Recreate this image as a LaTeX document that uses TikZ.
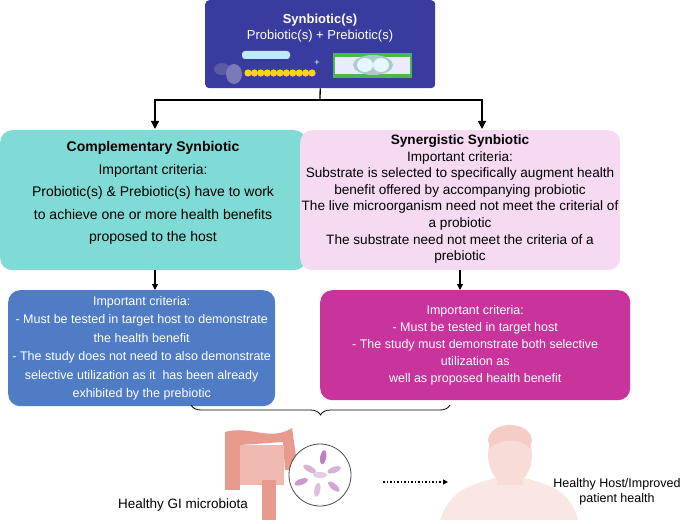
\documentclass[tikz,border=0pt]{standalone}
\usepackage{fontspec}
\setmainfont{Liberation Sans}
\usetikzlibrary{decorations.pathreplacing,arrows.meta,calc}
\definecolor{top}{HTML}{3A3B9E}
\definecolor{teal}{HTML}{80DAD5}
\definecolor{lpink}{HTML}{F6DAF2}
\definecolor{dblue}{HTML}{4F7CC4}
\definecolor{mag}{HTML}{C8339C}
\definecolor{gut}{HTML}{E89A8E}
\definecolor{skin}{HTML}{F7DCD8}
\begin{document}
\begin{tikzpicture}[x=1pt,y=-1pt,
 box/.style={rounded corners=12pt,draw=none,align=center,font=\fontsize{12.5}{18}\selectfont,inner sep=4pt},
 arr/.style={-{Triangle[length=8pt,width=8pt]},line width=1.3pt}]
\useasboundingbox (0,0) rectangle (685,524);
\node[box,fill=top,minimum width=230pt,minimum height=88pt,rounded corners=4pt,anchor=north west] (top) at (205,0) {};
\node[text=white,align=center,font=\fontsize{13}{16}\selectfont] (tt) at (320,28) {\textbf{Synbiotic(s)}\\Probiotic(s) + Prebiotic(s)};
% icons
\fill[blue!30!gray] (222,69) ellipse (8 and 6);
\fill[blue!30!gray!80] (234,74) ellipse (8 and 10);
\fill[cyan!25,rounded corners=3pt] (242,51) rectangle (290,59);
\foreach \i in {0,...,10} \fill[orange!40!yellow!90] (248+\i*6.4,73) circle (3.6);
\node[text=white,font=\small] (plus) at (317,63) {+};
\fill[green!60!black!70] (333,53) rectangle (412,78);
\fill[blue!8] (335,57) rectangle (410,74);
\fill[teal!70!black!50] (373,65) ellipse (20 and 10);
\fill[cyan!10] (365,65) ellipse (8 and 7);\fill[cyan!10] (381,65) ellipse (8 and 7);
\node[box,fill=teal,minimum width=306pt,minimum height=140pt,anchor=north west] (cs) at (0,130) {};
\node[align=center,font=\fontsize{14}{22.5}\selectfont] (cst) at (153,193) {\textbf{Complementary Synbiotic}\\Important criteria:\\Probiotic(s) \& Prebiotic(s) have to work\\to achieve one or more health benefits\\proposed to the host};
\node[box,fill=lpink,minimum width=320pt,minimum height=140pt,anchor=north west] (ss) at (300,130) {};
\node[align=center,font=\fontsize{13.6}{16.6}\selectfont] (sst) at (460,199) {\textbf{Synergistic Synbiotic}\\Important criteria:\\Substrate is selected to specifically augment health\\benefit offered by accompanying probiotic\\The live microorganism need not meet the criterial of\\a probiotic\\The substrate need not meet the criteria of a\\prebiotic};
\coordinate (j) at (320,100);
\draw[line width=1.3pt] (top.south) -- (j);
\draw[arr] (j) -| (155,129);
\draw[arr] (j) -| (482,129);
\node[box,fill=dblue,text=white,minimum width=267pt,minimum height=116pt,anchor=north west,font=\fontsize{12.5}{18.5}\selectfont] (bb) at (8,290) {Important criteria:\\- Must be tested in target host to demonstrate\\the health benefit\\- The study does not need to also demonstrate\\selective utilization as it \ has been already\\exhibited by the prebiotic};
\node[box,fill=mag,text=white,minimum width=310pt,minimum height=110pt,anchor=north west,font=\fontsize{12.5}{17}\selectfont] (mb) at (320,290) {Important criteria:\\- Must be tested in target host\\- The study must demonstrate both selective\\utilization as\\well as proposed health benefit};
\draw[-{Triangle[length=6pt,width=6pt]},line width=1.1pt] (155,270) -- (bb.north-|155,0);
\draw[-{Triangle[length=6pt,width=6pt]},line width=1.1pt] (460,270) -- (mb.north-|460,0);
\draw[decorate,decoration={brace,amplitude=10pt,mirror},line width=0.8pt] (191,405) -- (450,405);
% gut
\fill[gut] (225,435) rectangle (240,490);
\fill[gut] (225,432) .. controls (250,425) and (270,442) .. (292,428) -- (298,470) -- (285,470) -- (283,442) -- (240,445) -- (240,470) -- (225,470) -- cycle;
\fill[gut!70] (240,445) rectangle (284,485);
\fill[gut] (262,480) rectangle (276,520);
\node[circle,draw=black!70,fill=white,minimum size=62pt,line width=0.8pt] (mic) at (320,475) {};
\foreach \a/\r/\c in {20/15/violet!30,80/18/violet!50,150/12/violet!30,200/20/violet!40,260/15/violet!25,320/18/violet!35,0/0/violet!20}
 \fill[\c,rotate around={\a:(mic)}] ($(mic)+(\r,0)$) ellipse (7 and 3);
\node[font=\fontsize{13.5}{15}\selectfont] (gi) at (183,505) {Healthy GI microbiota};
% face
\fill[skin!70] (440,520) .. controls (450,490) and (470,485) .. (495,478) -- (525,478) .. controls (550,485) and (570,490) .. (578,520) -- cycle;
\fill[skin] (497,460) rectangle (523,485);
\fill[skin] (510,455) ellipse (22 and 30);
\fill[gut!50] (488,440) .. controls (490,420) and (530,420) .. (532,440) -- (530,448) .. controls (520,438) and (500,438) .. (490,448) -- cycle;
\node (face) at (510,470) {};
\draw[dotted,line width=1.5pt,-{Triangle[length=5pt,width=5pt]}] (383,482) -- (448,482);
\node[align=center,font=\fontsize{12.5}{15}\selectfont] (hh) at (617,492) {Healthy Host/Improved\\patient health};
\end{tikzpicture}
\end{document}
